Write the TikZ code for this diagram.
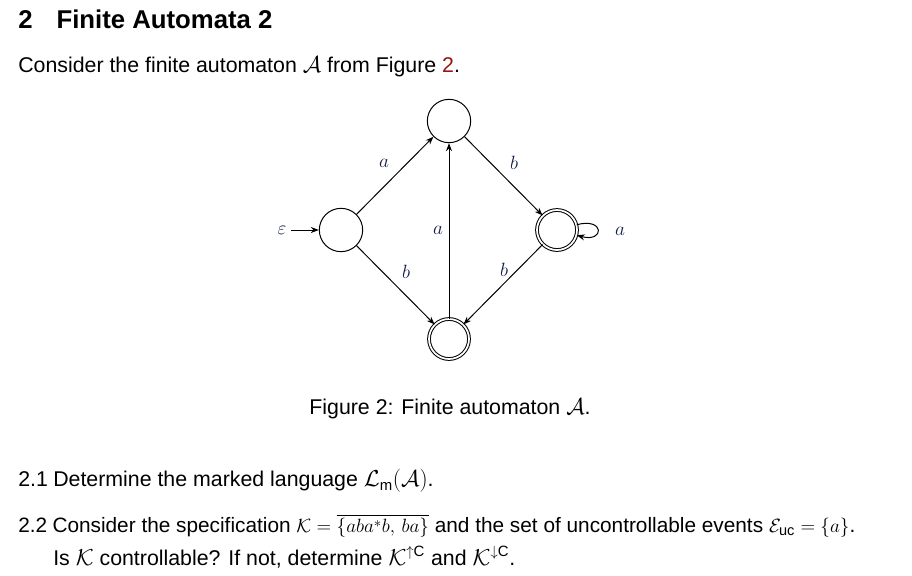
\documentclass[tikz,border=0pt]{standalone}
\usepackage{amsmath}
\usepackage{fontspec}
\setmainfont{Liberation Sans}
\setsansfont{Liberation Sans}
\usetikzlibrary{arrows.meta,automata}
\definecolor{lab}{RGB}{20,30,70}
\definecolor{linkred}{RGB}{150,20,20}
\begin{document}
\begin{tikzpicture}[x=0.75pt,y=-0.75pt,
  st/.style={circle,draw,line width=0.75pt,minimum size=32.5pt,inner sep=0pt},
  acc/.style={st,double,double distance=1.3pt,minimum size=30pt},
  tr/.style={-{Stealth[length=6pt,width=4.5pt]},line width=0.75pt},
  lbl/.style={text=lab,font=\fontsize{14}{16}\selectfont},
  txt/.style={anchor=west,inner sep=0pt,font=\fontsize{16}{19}\selectfont}]
\useasboundingbox (0,0) rectangle (912,575);
\node[anchor=west,inner sep=0pt,font=\fontsize{19.3}{22}\selectfont\bfseries] (h) at (18,19) {2\hspace{18pt}Finite Automata 2};
\node[txt] (c) at (18,67) {Consider the finite automaton $\mathcal{A}$ from Figure \textcolor{linkred}{2}.};
\node[st] (q0) at (341,230) {};
\node[st] (q1) at (449,121) {};
\node[acc] (q2) at (557,230) {};
\node[acc] (q3) at (449,339) {};
\node[lbl] (e) at (282,230) {$\varepsilon$};
\draw[tr] (e) -- (q0);
\draw[tr] (q0) -- (q1);
\draw[tr] (q1) -- (q2);
\draw[tr] (q0) -- (q3);
\draw[tr] (q2) -- (q3);
\draw[tr] (q3) -- (q1);
\draw[tr] (q2) edge[out=15,in=-15,looseness=7] (q2);
\node[lbl] (l1) at (384,163) {$a$};
\node[lbl] (l2) at (514,163) {$b$};
\node[lbl] (l3) at (438,230) {$a$};
\node[lbl] (l4) at (406,272) {$b$};
\node[lbl] (l5) at (504,270) {$b$};
\node[lbl] (l6) at (620,231) {$a$};
\node[font=\fontsize{16}{19}\selectfont] (cap) at (450,409) {Figure 2: Finite automaton $\mathcal{A}$.};
\node[txt] (p1) at (18,481) {2.1\hspace{4pt}Determine the marked language $\mathcal{L}_{\mathsf{m}}(\mathcal{A})$.};
\node[txt,font=\fontsize{15.6}{19}\selectfont] (p2) at (18,526) {2.2\hspace{4pt}Consider the specification $\mathcal{K}=\overline{\{aba^*b,\,ba\}}$ and the set of uncontrollable events $\mathcal{E}_{\mathsf{uc}}=\{a\}$.};
\node[txt] (p3) at (53,557) {Is $\mathcal{K}$ controllable? If not, determine $\mathcal{K}^{\uparrow\mathsf{C}}$ and $\mathcal{K}^{\downarrow\mathsf{C}}$.};
\end{tikzpicture}
\end{document}
